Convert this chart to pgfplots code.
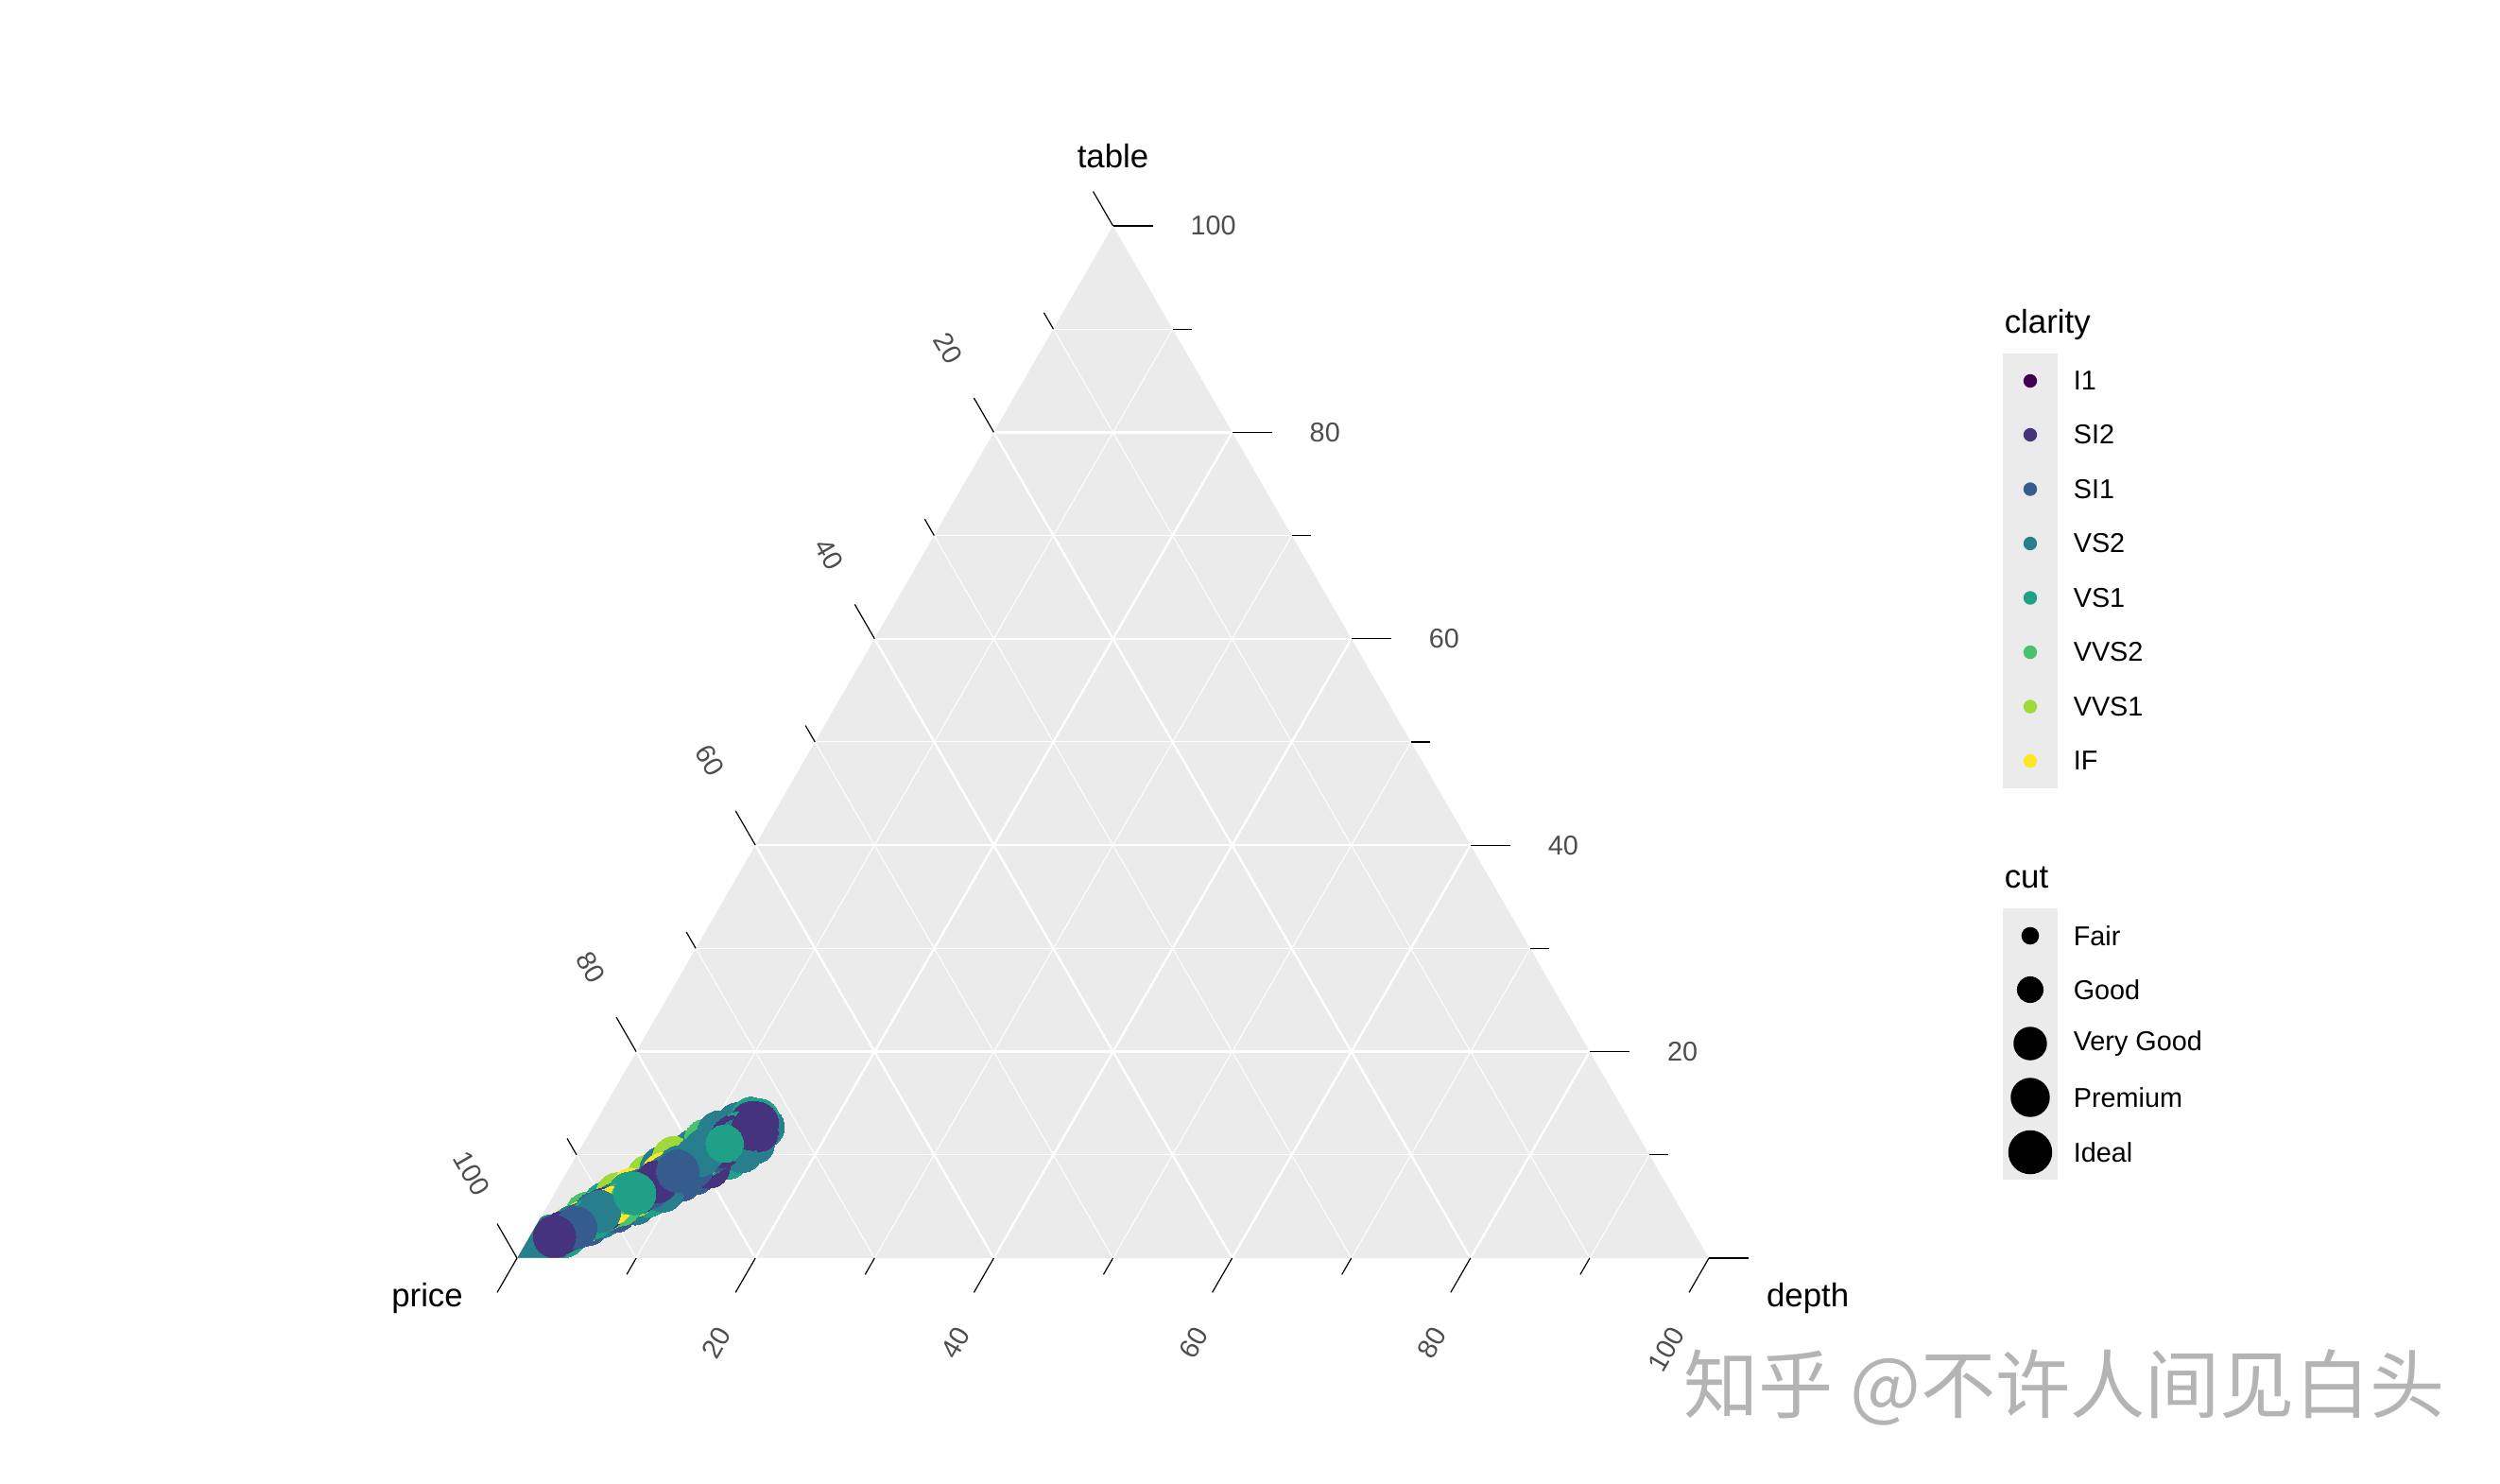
\documentclass[border=0pt]{standalone}
\usepackage{pgfplots}
\usepackage{pgfplotstable}
\usepackage{fontspec}
\pgfplotsset{compat=1.18}
\setmainfont{Liberation Sans}
\newfontfamily\cjk{Noto Sans CJK SC}

\definecolor{panel}{HTML}{EBEBEB}
\definecolor{ticktext}{HTML}{4D4D4D}
\definecolor{wm}{HTML}{B4B4B4}
\definecolor{cI1}{HTML}{440154}
\definecolor{cSI2}{HTML}{46337E}
\definecolor{cSI1}{HTML}{365C8D}
\definecolor{cVS2}{HTML}{277F8E}
\definecolor{cVS1}{HTML}{1FA187}
\definecolor{cVVS2}{HTML}{4AC16D}
\definecolor{cVVS1}{HTML}{9FDA3A}
\definecolor{cIF}{HTML}{FDE725}

% viridis, 8 levels (clarity 1..8)
\pgfplotsset{colormap={clarity}{rgb255=(68,1,84) rgb255=(70,51,126) rgb255=(54,92,141)
  rgb255=(39,127,142) rgb255=(31,161,135) rgb255=(74,193,109) rgb255=(159,218,58) rgb255=(253,231,37)}}

% ternary shares in percent; clar: 1=I1 ... 8=IF ; cut: 1=Fair ... 5=Ideal
\pgfplotstableread{
price depth table clar cut
96.0 1.84 2.16 4 5
92.5 4.27 3.23 3 5
90.0 4.70 5.30 5 5
87.5 7.25 5.25 4 5
85.0 7.05 7.95 7 5
82.5 9.97 7.53 3 5
80.0 9.60 10.40 4 5
77.5 12.82 9.68 5 5
75.0 12.00 13.00 4 5
94.0 2.82 3.18 8 4
91.0 5.22 3.78 4 4
88.5 5.29 6.21 7 5
86.0 7.98 6.02 5 5
83.5 7.75 8.75 4 5
81.0 11.02 7.98 3 4
78.5 10.10 11.40 6 5
76.0 13.68 10.32 4 5
73.5 12.72 13.78 5 4
97.0 1.71 1.29 4 5
92.0 3.68 4.32 6 5
87.0 6.11 6.89 8 4
82.0 8.28 9.72 7 5
77.0 10.81 12.19 4 5
95.0 2.90 2.10 5 5
89.5 5.98 4.52 3 5
84.5 8.99 6.51 4 5
79.5 11.68 8.82 2 5
74.5 14.53 10.97 4 4
73.0 14.31 12.69 4 5
72.8 13.60 13.60 5 4
94.8 2.70 2.50 4 5
87.7 6.52 5.78 3 4
97.9 1.07 1.03 2 3
79.5 10.66 9.84 5 5
91.3 4.35 4.35 3 5
74.1 13.73 12.17 4 3
98.6 0.73 0.67 4 5
84.4 7.96 7.64 6 4
96.2 2.05 1.75 2 2
77.2 11.63 11.17 3 5
89.9 5.25 4.85 7 5
93.4 3.50 3.10 4 4
81.8 9.10 9.10 2 3
99.1 0.47 0.43 5 5
86.3 7.12 6.58 4 5
75.6 12.20 12.20 2 4
95.5 2.29 2.21 3 3
90.6 5.08 4.32 5 4
83.1 8.96 7.94 3 5
73.4 13.83 12.77 4 5
97.1 1.54 1.36 6 4
88.5 5.86 5.64 2 2
78.7 11.29 10.01 4 4
92.7 3.80 3.50 8 5
85.2 7.40 7.40 3 3
80.6 10.09 9.31 6 5
96.7 1.65 1.65 3 5
76.3 12.80 10.90 5 3
92.0 4.08 3.92 4 4
87.1 6.84 6.06 7 5
98.2 0.97 0.83 4 4
82.4 8.98 8.62 2 5
74.8 12.85 12.35 3 4
94.1 3.07 2.83 5 1
89.2 5.40 5.40 4 4
80.0 10.80 9.20 7 3
84.8 7.90 7.30 5 5
95.9 2.17 1.93 3 5
77.9 11.05 11.05 4 5
91.0 4.68 4.32 6 3
86.7 7.18 6.12 2 4
73.8 13.10 13.10 2 5
93.8 3.16 3.04 4 5
81.2 9.96 8.84 4 4
97.5 1.30 1.20 5 3
88.1 6.19 5.71 3 5
83.7 8.15 8.15 8 5
76.0 12.48 11.52 5 4
92.3 4.16 3.54 3 2
78.3 11.28 10.42 3 5
85.8 7.53 6.67 4 4
96.4 1.87 1.73 7 4
80.1 10.15 9.75 4 5
89.6 5.51 4.89 2 3
74.4 13.82 11.78 4 5
94.5 2.75 2.75 6 4
82.8 8.94 8.26 5 2
91.6 4.37 4.03 4 5
76.8 12.06 11.14 6 3
87.4 6.30 6.30 5 5
98.8 0.61 0.59 3 4
84.1 8.59 7.31 4 5
79.1 10.66 10.24 7 4
93.1 3.59 3.31 3 3
88.8 6.05 5.15 6 5
73.1 13.72 13.18 3 4
95.2 2.54 2.26 5 5
81.5 9.62 8.88 3 4
90.3 4.95 4.75 2 5
77.5 11.92 10.58 2 4
86.1 7.09 6.81 4 3
97.7 1.15 1.15 3 5
83.4 8.63 7.97 4 5
75.2 12.65 12.15 5 5
93.0 3.50 3.50 3 4
80.9 10.31 8.79 3 5
89.4 5.51 5.09 8 4
79.0 10.50 10.50 4 5
97.0 1.56 1.44 4 4
85.5 7.68 6.82 3 5
74.6 13.21 12.19 1 3
91.8 4.35 3.85 5 5
82.1 8.95 8.95 4 4
95.0 2.55 2.45 2 5
87.9 6.29 5.81 6 3
76.1 12.19 11.71 2 5
98.4 0.85 0.75 4 5
84.6 8.01 7.39 2 5
73.6 14.26 12.14 2 4
90.8 4.69 4.51 4 5
79.7 10.56 9.74 4 4
93.6 3.46 2.94 3 5
73.3 13.62 13.08 2 5
87.0 6.76 6.24 5 5
82.0 9.18 8.82 4 5
96.1 1.99 1.91 4 5
75.7 12.88 11.42 4 5
74.0 13.52 12.48 2 5
95.81 2.11 2.08 2 5
82.30 9.27 8.43 3 5
77.04 11.88 11.08 5 4
}\diamonds

\newcommand{\fs}[1]{\fontsize{#1}{#1}\selectfont}

\begin{document}
\begin{tikzpicture}
\begin{axis}[
  scale only axis, width=661.25bp, height=392.5bp,
  xmin=-43.378, xmax=166.376, ymin=-18.953, ymax=105.551,
  hide axis, clip=false, set layers=standard,
]
\begin{pgfonlayer}{axis background}
\fill[white] (rel axis cs:0,0) rectangle (rel axis cs:1,1);
\coordinate (bbsw) at (rel axis cs:0,0);
\coordinate (bbne) at (rel axis cs:1,1);
% panel
\fill[panel] (0,0) -- (100,0) -- (50,86.60254) -- cycle;
% minor grid
\pgfplotsinvokeforeach{10,30,50,70,90}{
  \draw[white, line width=0.25bp] ({#1/2},{0.8660254*#1}) -- ({100-#1/2},{0.8660254*#1});
  \draw[white, line width=0.25bp] (#1,0) -- ({50+#1/2},{0.8660254*(100-#1)});
  \draw[white, line width=0.25bp] ({100-#1},0) -- ({(100-#1)/2},{0.8660254*(100-#1)});
}
% major grid
\pgfplotsinvokeforeach{20,40,60,80}{
  \draw[white, line width=0.6bp] ({#1/2},{0.8660254*#1}) -- ({100-#1/2},{0.8660254*#1});
  \draw[white, line width=0.6bp] (#1,0) -- ({50+#1/2},{0.8660254*(100-#1)});
  \draw[white, line width=0.6bp] ({100-#1},0) -- ({(100-#1)/2},{0.8660254*(100-#1)});
}
% legend key backgrounds
\fill[panel] (124.66,75.89) rectangle (129.26,39.41);
\fill[panel] (124.66,29.34) rectangle (129.26,6.58);
\end{pgfonlayer}

% points: colour = clarity, size = cut
\addplot[scatter, only marks, mark=*,
  point meta=explicit, point meta min=1, point meta max=8,
  colormap name=clarity,
  scatter/use mapped color={draw=mapped color, fill=mapped color},
  mark options={line width=0pt},
  visualization depends on={\thisrow{cut} \as \cutv},
  scatter/@pre marker code/.append style={/tikz/mark size={0.25*sqrt(69+109*(\cutv-1))}},
] table[meta=clar, x expr=\thisrow{depth}+0.5*\thisrow{table}, y expr=0.8660254*\thisrow{table}] {\diamonds};

% legend keys
\addplot[only marks, mark=*, mark size=1.6, color=cI1] coordinates {(126.96,73.59)};
\addplot[only marks, mark=*, mark size=1.6, color=cSI2] coordinates {(126.96,69.07)};
\addplot[only marks, mark=*, mark size=1.6, color=cSI1] coordinates {(126.96,64.51)};
\addplot[only marks, mark=*, mark size=1.6, color=cVS2] coordinates {(126.96,59.95)};
\addplot[only marks, mark=*, mark size=1.6, color=cVS1] coordinates {(126.96,55.39)};
\addplot[only marks, mark=*, mark size=1.6, color=cVVS2] coordinates {(126.96,50.83)};
\addplot[only marks, mark=*, mark size=1.6, color=cVVS1] coordinates {(126.96,46.27)};
\addplot[only marks, mark=*, mark size=1.6, color=cIF] coordinates {(126.96,41.71)};
\addplot[only marks, mark=*, mark size=2.13, color=black] coordinates {(126.96,27.04)};
\addplot[only marks, mark=*, mark size=3.33, color=black] coordinates {(126.96,22.52)};
\addplot[only marks, mark=*, mark size=4.25, color=black] coordinates {(126.96,18.00)};
\addplot[only marks, mark=*, mark size=5.00, color=black] coordinates {(126.96,13.48)};
\addplot[only marks, mark=*, mark size=5.63, color=black] coordinates {(126.96,8.88)};

\begin{pgfonlayer}{axis foreground}
% keep the points inside the panel near the price corner
\fill[white] (30,0) -- (0,0) -- (10,17.3205) -- (-25,17.3205) -- (-25,-12) -- (30,-12) -- cycle;
% ticks
\pgfplotsinvokeforeach{0,20,40,60,80,100}{
  \draw[black, line width=0.3bp] ({100-#1/2},{0.8660254*#1}) -- ({100-#1/2+3.33},{0.8660254*#1});
  \draw[black, line width=0.3bp] ({(100-#1)/2},{0.8660254*(100-#1)}) -- ({(100-#1)/2-1.665},{0.8660254*(100-#1)+2.884});
  \draw[black, line width=0.3bp] (#1,0) -- ({#1-1.665},-2.884);
}
\pgfplotsinvokeforeach{10,30,50,70,90}{
  \draw[black, line width=0.3bp] ({100-#1/2},{0.8660254*#1}) -- ({100-#1/2+1.59},{0.8660254*#1});
  \draw[black, line width=0.3bp] ({(100-#1)/2},{0.8660254*(100-#1)}) -- ({(100-#1)/2-0.795},{0.8660254*(100-#1)+1.377});
  \draw[black, line width=0.3bp] (#1,0) -- ({#1-0.795},-1.377);
}
% tick labels
\pgfplotsinvokeforeach{20,40,60,80,100}{
  \node[text=ticktext, inner sep=0, anchor=west, font=\fs{7.2bp}] at ({100-#1/2+6.45},{0.8660254*#1}) {#1};
  \node[text=ticktext, inner sep=0, font=\fs{7.2bp}, rotate=-60] at ({(100-#1)/2-3.8},{0.8660254*(100-#1)+7.08}) {#1};
  \node[text=ticktext, inner sep=0, anchor=east, font=\fs{7.2bp}, rotate=60] at ({#1-2.57},-5.98) {#1};
}
% axis titles
\node[inner sep=0, font=\fs{8.7bp}] at (50,92.45) {table};
\node[inner sep=0, font=\fs{8.7bp}] at (-7.53,-3.41) {price};
\node[inner sep=0, font=\fs{8.7bp}] at (108.3,-3.41) {depth};

% legend texts
\node[anchor=base west, inner sep=0, font=\fs{8.7bp}] at (124.74,77.56) {clarity};
\node[anchor=west, inner sep=0, font=\fs{7.2bp}] at (130.53,73.59) {I1};
\node[anchor=west, inner sep=0, font=\fs{7.2bp}] at (130.53,69.07) {SI2};
\node[anchor=west, inner sep=0, font=\fs{7.2bp}] at (130.53,64.51) {SI1};
\node[anchor=west, inner sep=0, font=\fs{7.2bp}] at (130.53,59.95) {VS2};
\node[anchor=west, inner sep=0, font=\fs{7.2bp}] at (130.53,55.39) {VS1};
\node[anchor=west, inner sep=0, font=\fs{7.2bp}] at (130.53,50.83) {VVS2};
\node[anchor=west, inner sep=0, font=\fs{7.2bp}] at (130.53,46.27) {VVS1};
\node[anchor=west, inner sep=0, font=\fs{7.2bp}] at (130.53,41.71) {IF};
\node[anchor=base west, inner sep=0, font=\fs{8.7bp}] at (124.74,31.01) {cut};
\node[anchor=west, inner sep=0, font=\fs{7.2bp}] at (130.53,27.04) {Fair};
\node[anchor=west, inner sep=0, font=\fs{7.2bp}] at (130.53,22.52) {Good};
\node[anchor=west, inner sep=0, font=\fs{7.2bp}] at (130.53,18.00) {Very Good};
\node[anchor=west, inner sep=0, font=\fs{7.2bp}] at (130.53,13.48) {Premium};
\node[anchor=west, inner sep=0, font=\fs{7.2bp}] at (130.53,8.88) {Ideal};

% watermark
\node[anchor=base west, inner sep=0, text=wm, font=\cjk\fs{19.8bp}] at (97.8,-12.93) {知乎 @不许人间见白头};
\end{pgfonlayer}
\end{axis}
\pgfresetboundingbox
\path (bbsw) rectangle (bbne);
\end{tikzpicture}
\end{document}
